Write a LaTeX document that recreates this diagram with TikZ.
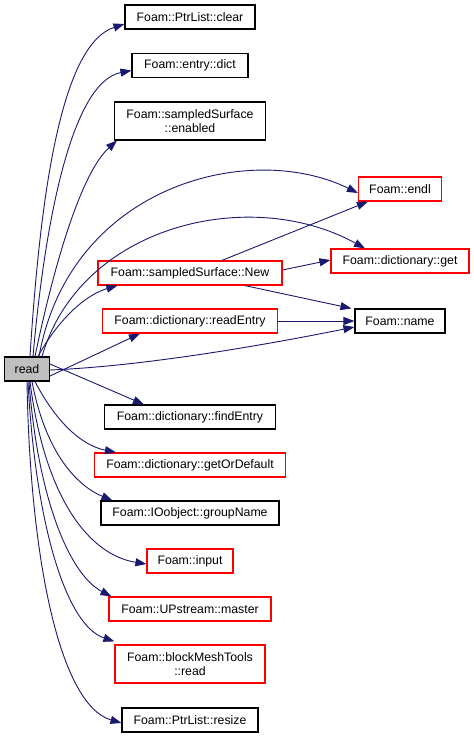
\documentclass[tikz,border=0pt]{standalone}
\usepackage{fontspec}
\setmainfont{Liberation Sans}
\usepackage{xcolor}
\definecolor{edgeblue}{RGB}{25,25,112}
\definecolor{boxred}{RGB}{255,0,0}
\definecolor{rootgray}{RGB}{191,191,191}
\usepackage{tikz}
\usetikzlibrary{arrows.meta, positioning}

\begin{document}
\begin{tikzpicture}[x=1bp, y=-1bp,
  fn/.style={draw, line width=1.1bp, fill=white, minimum height=24bp,
             inner sep=2bp, align=center, text=black,
             font=\fontsize{12.3bp}{14bp}\selectfont},
  fnblack/.style={fn, draw=black},
  fnred/.style={fn, draw=boxred, line width=1.2bp},
  root/.style={fn, draw=black, fill=rootgray},
  call/.style={draw=edgeblue, line width=0.9bp,
               -{Triangle[length=11bp, width=8bp]}}]
\useasboundingbox (0,0) rectangle (474,738);

% caller
\node[root, minimum width=45bp] (read) at (27,369) {read};

% callees, first column
\node[fnblack, minimum width=130bp] (clear) at (190,17) {Foam::PtrList::clear};
\node[fnblack, minimum width=116bp] (dict) at (190,65.5) {Foam::entry::dict};
\node[fnblack, minimum width=151bp, minimum height=38bp] (enabled) at (190,121)
  {Foam::sampledSurface\\::enabled};
\node[fnred, minimum width=184bp] (new) at (190,273) {Foam::sampledSurface::New};
\node[fnred, minimum width=175bp] (readentry) at (190,321) {Foam::dictionary::readEntry};
\node[fnblack, minimum width=171bp] (findentry) at (190,417) {Foam::dictionary::findEntry};
\node[fnred, minimum width=191bp] (getordefault) at (190,465) {Foam::dictionary::getOrDefault};
\node[fnblack, minimum width=178bp] (groupname) at (190,513) {Foam::IOobject::groupName};
\node[fnred, minimum width=86bp] (input) at (190,561) {Foam::input};
\node[fnred, minimum width=162bp] (master) at (190,609) {Foam::UPstream::master};
\node[fnred, minimum width=150bp, minimum height=38bp] (bmread) at (190,664)
  {Foam::blockMeshTools\\::read};
\node[fnblack, minimum width=136bp] (resize) at (190,720) {Foam::PtrList::resize};

% callees, second column
\node[fnred, minimum width=83bp] (endl) at (400,189) {Foam::endl};
\node[fnred, minimum width=138bp] (get) at (400,261) {Foam::dictionary::get};
\node[fnblack, minimum width=90bp] (name) at (400,321) {Foam::name};

% calls from read, upwards
\draw[call] ([xshift=3bp]read.north) .. controls (40,200) and (60,45) .. ([yshift=-7bp]clear.west);
\draw[call] ([xshift=6bp]read.north) .. controls (45,220) and (72,82) .. ([yshift=-5bp]dict.west);
\draw[call] ([xshift=8bp]read.north) .. controls (55,260) and (82,172) .. ([xshift=3bp]enabled.south west);
\draw[call] ([xshift=12bp]read.north) .. controls (70,185) and (250,140) .. ([yshift=-4bp]endl.west);
\draw[call] ([xshift=15bp]read.north) .. controls (80,225) and (250,185) .. ([xshift=-35bp]get.north);
\draw[call] ([xshift=11bp]read.north) .. controls (58,320) and (85,295) .. ([xshift=20bp]new.south west);

% calls from read, to the right
\draw[call] ([yshift=-7bp]read.east) -- ([xshift=38bp]readentry.south west);
\draw[call] ([yshift=-1bp]read.east) .. controls (150,366) and (280,342) .. ([yshift=-6bp]name.west);
\draw[call] ([yshift=5bp]read.east) -- ([xshift=40bp]findentry.north west);

% calls from read, downwards
\draw[call] ([xshift=8bp]read.south) .. controls (55,420) and (80,445) .. ([xshift=22bp]getordefault.north west);
\draw[call] ([xshift=5bp]read.south) .. controls (45,450) and (75,485) .. ([xshift=12bp]groupname.north west);
\draw[call] ([xshift=3bp]read.south) .. controls (45,500) and (90,555) .. ([yshift=-3bp]input.west);
\draw[call] ([xshift=2bp]read.south) .. controls (38,500) and (70,575) .. ([xshift=3bp]master.north west);
\draw[call] ([xshift=1bp]read.south) .. controls (35,520) and (65,625) .. ([yshift=3bp]bmread.north west);
\draw[call] (read.south) .. controls (30,560) and (60,705) .. ([yshift=-3bp]resize.west);

% calls from the second level
\draw[call] ([xshift=32bp]new.north) -- ([xshift=10bp]endl.south west);
\draw[call] ([yshift=3bp]new.east) -- ([yshift=1bp]get.west);
\draw[call] ([xshift=55bp]new.south) -- ([xshift=-3bp]name.north west);
\draw[call] (readentry.east) -- (name.west);
\end{tikzpicture}
\end{document}
